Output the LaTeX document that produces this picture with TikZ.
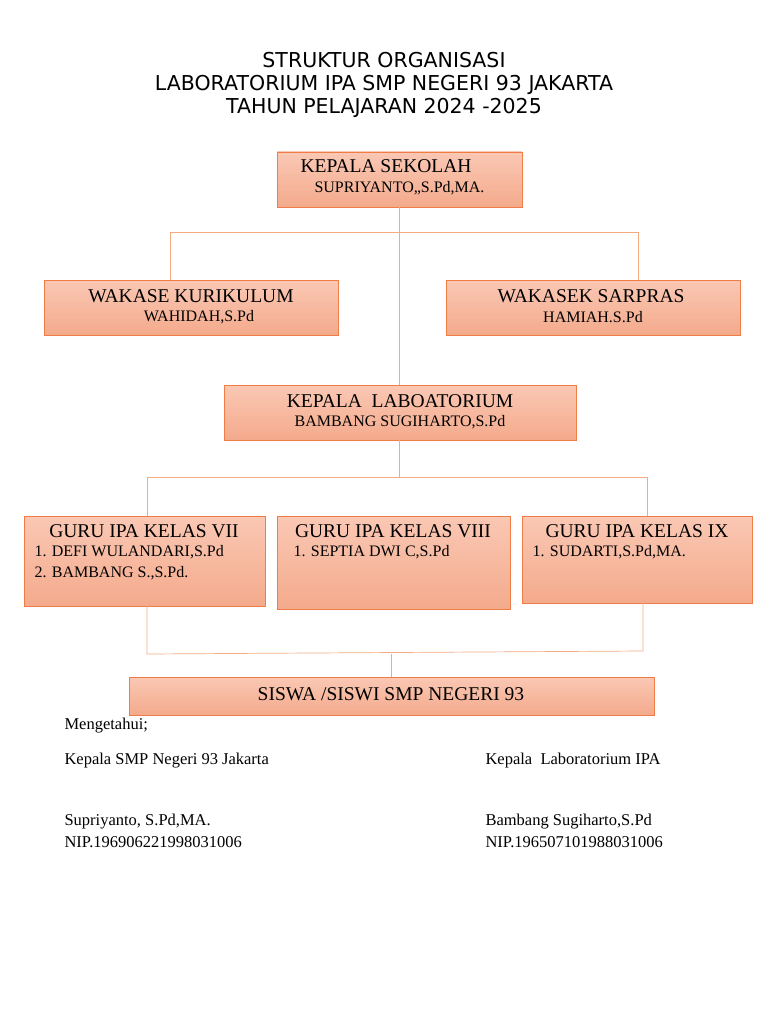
\documentclass[tikz,border=0pt]{standalone}
\usepackage{fontspec}
\setmainfont{Liberation Serif}
\newfontfamily\titlefont{DejaVu Sans}
\definecolor{ftop}{RGB}{250,200,180}
\definecolor{fbot}{RGB}{244,170,140}
\definecolor{bord}{RGB}{240,125,70}
\definecolor{lnc}{RGB}{245,170,130}
\begin{document}
\begin{tikzpicture}[x=1pt,y=-1pt,
  bx/.style={draw=bord,line width=0.7pt,top color=ftop,bottom color=fbot,inner sep=0pt},
  ln/.style={draw=lnc,line width=0.7pt},
  tt/.style={font=\fontsize{19.5}{22}\selectfont},
  st/.style={font=\fontsize{16}{18}\selectfont},
  ft/.style={font=\fontsize{16.5}{19}\selectfont,anchor=west}]
\useasboundingbox (0,0) rectangle (768,1024);
\node[font=\titlefont\fontsize{20.5}{23}\selectfont,align=center] (title) at (384,85) {STRUKTUR ORGANISASI\\LABORATORIUM IPA SMP NEGERI 93 JAKARTA\\TAHUN PELAJARAN 2024 -2025};
\path[bx] (277,152) rectangle (522,207);
\path[bx] (44,280) rectangle (338,335);
\path[bx] (446,280) rectangle (740,335);
\path[bx] (224,385) rectangle (576,440);
\path[bx] (24,516) rectangle (265,606);
\path[bx] (277,516) rectangle (510,609);
\path[bx] (522,516) rectangle (752,603);
\path[bx] (129,677) rectangle (654,715);
\node[tt] (t1) at (386,166) {KEPALA SEKOLAH};
\node[st] (s1) at (399.5,188) {SUPRIYANTO,,S.Pd,MA.};
\node[tt] (t2) at (191,296) {WAKASE KURIKULUM};
\node[st] (s2) at (199,317) {WAHIDAH,S.Pd};
\node[tt] (t3) at (591,296) {WAKASEK SARPRAS};
\node[st] (s3) at (593,317) {HAMIAH.S.Pd};
\node[tt] (t4) at (400,401) {KEPALA\ \ LABOATORIUM};
\node[st] (s4) at (400,422) {BAMBANG SUGIHARTO,S.Pd};
\node[tt] (t5) at (144,531) {GURU IPA KELAS VII};
\node[st,anchor=west] (s5) at (31,552) {1. DEFI WULANDARI,S.Pd};
\node[st,anchor=west] (s5b) at (31,573) {2. BAMBANG S.,S.Pd.};
\node[tt] (t6) at (393,531) {GURU IPA KELAS VIII};
\node[st,anchor=west] (s6) at (290,552) {1. SEPTIA DWI C,S.Pd};
\node[tt] (t7) at (637,531) {GURU IPA KELAS IX};
\node[st,anchor=west] (s7) at (529,552) {1. SUDARTI,S.Pd,MA.};
\node[tt] (t8) at (391,694) {SISWA /SISWI SMP NEGERI 93};
\draw[ln] (399.5,207) -- (399.5,385);
\draw[ln] (170,280) -- (170,232) -- (638,232) -- (638,280);
\draw[ln] (399.5,440) -- (399.5,477);
\draw[ln] (147,516) -- (147,477) -- (647,477) -- (647,516);
\draw[ln] (147,606) -- (147,654) -- (643,651) -- (643,603);
\draw[ln] (391,654) -- (391,677);
\node[ft] (f1) at (61,726) {Mengetahui;};
\node[ft] (f2) at (61,761) {Kepala SMP Negeri 93 Jakarta};
\node[ft] (f3) at (61,822) {Supriyanto, S.Pd,MA.};
\node[ft] (f4) at (61,842) {NIP.196906221998031006};
\node[ft] (f5) at (482,761) {Kepala\ \ Laboratorium IPA};
\node[ft] (f6) at (482,822) {Bambang Sugiharto,S.Pd};
\node[ft] (f7) at (482,842) {NIP.196507101988031006};
\end{tikzpicture}
\end{document}
